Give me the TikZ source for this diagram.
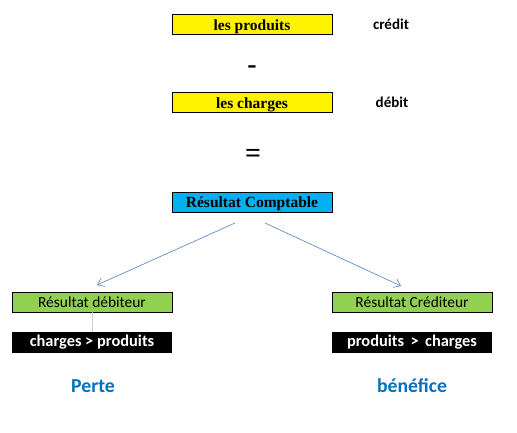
\documentclass[tikz,border=0pt]{standalone}
\usepackage{fontspec}
\usetikzlibrary{arrows.meta}
\setmainfont{Carlito}
\newfontfamily\serifb{Liberation Serif}
\definecolor{green2}{HTML}{92D050}
\definecolor{blue2}{HTML}{0070C0}
\definecolor{arrblue}{HTML}{4F81BD}
\definecolor{cyanb}{HTML}{00B0F0}
\begin{document}
\begin{tikzpicture}[x=1pt,y=-1pt,
  ybox/.style={draw=black,line width=0.8pt,fill=yellow,minimum width=160pt,minimum height=20pt,inner sep=0pt,text height=12.5pt,text depth=0pt,font=\serifb\bfseries\fontsize{15.5}{16}\selectfont},
  gbox/.style={draw=black,line width=0.8pt,fill=green2,minimum width=160pt,minimum height=20pt,inner sep=0pt,font=\fontsize{15.4}{16}\selectfont},
  kbox/.style={fill=black,text=white,minimum width=160pt,minimum height=21pt,inner sep=0pt,font=\bfseries\fontsize{16.4}{17}\selectfont},
  side/.style={font=\bfseries\fontsize{15}{16}\selectfont},
  res/.style={text=blue2,font=\bfseries\fontsize{19.7}{20}\selectfont},
  sym/.style={inner sep=0pt,font=\serifb\bfseries\fontsize{28}{28}\selectfont},
  arr/.style={draw=arrblue,line width=0.6pt,-{Straight Barb[length=6pt,width=9pt]}}]
\useasboundingbox (0,0) rectangle (517,432);
\node[ybox] (prod) at (252,24) {les produits};
\node[side] (cred) at (391,24) {crédit};
\node[sym] (minus) at (252,70) {-};
\node[ybox] (charg) at (252,102) {les charges};
\node[side] (deb) at (392,102) {débit};
\node[sym] (eq) at (253,156) {=};
\node[ybox,fill=cyanb,text height=11.5pt] (rc) at (252,202) {Résultat Comptable};
\node[gbox] (rd) at (92,302) {Résultat débiteur};
\node[gbox] (rcr) at (412,302) {Résultat Créditeur};
\node[kbox] (cp) at (92,342.5) {charges > produits};
\node[kbox] (pc) at (412,342.5) {produits \,>\, charges};
\node[res] (perte) at (93,386) {Perte};
\node[res] (ben) at (412,386) {bénéfice};
\coordinate (a1) at (235,223);
\coordinate (a2) at (265,223);
\coordinate (e1) at (97,285);
\coordinate (e2) at (401,286);
\draw[arr] (a1) -- (e1);
\draw[arr] (a2) -- (e2);
\draw[black!20,line width=0.6pt] (rd.south) -- (cp.north);
\end{tikzpicture}
\end{document}
